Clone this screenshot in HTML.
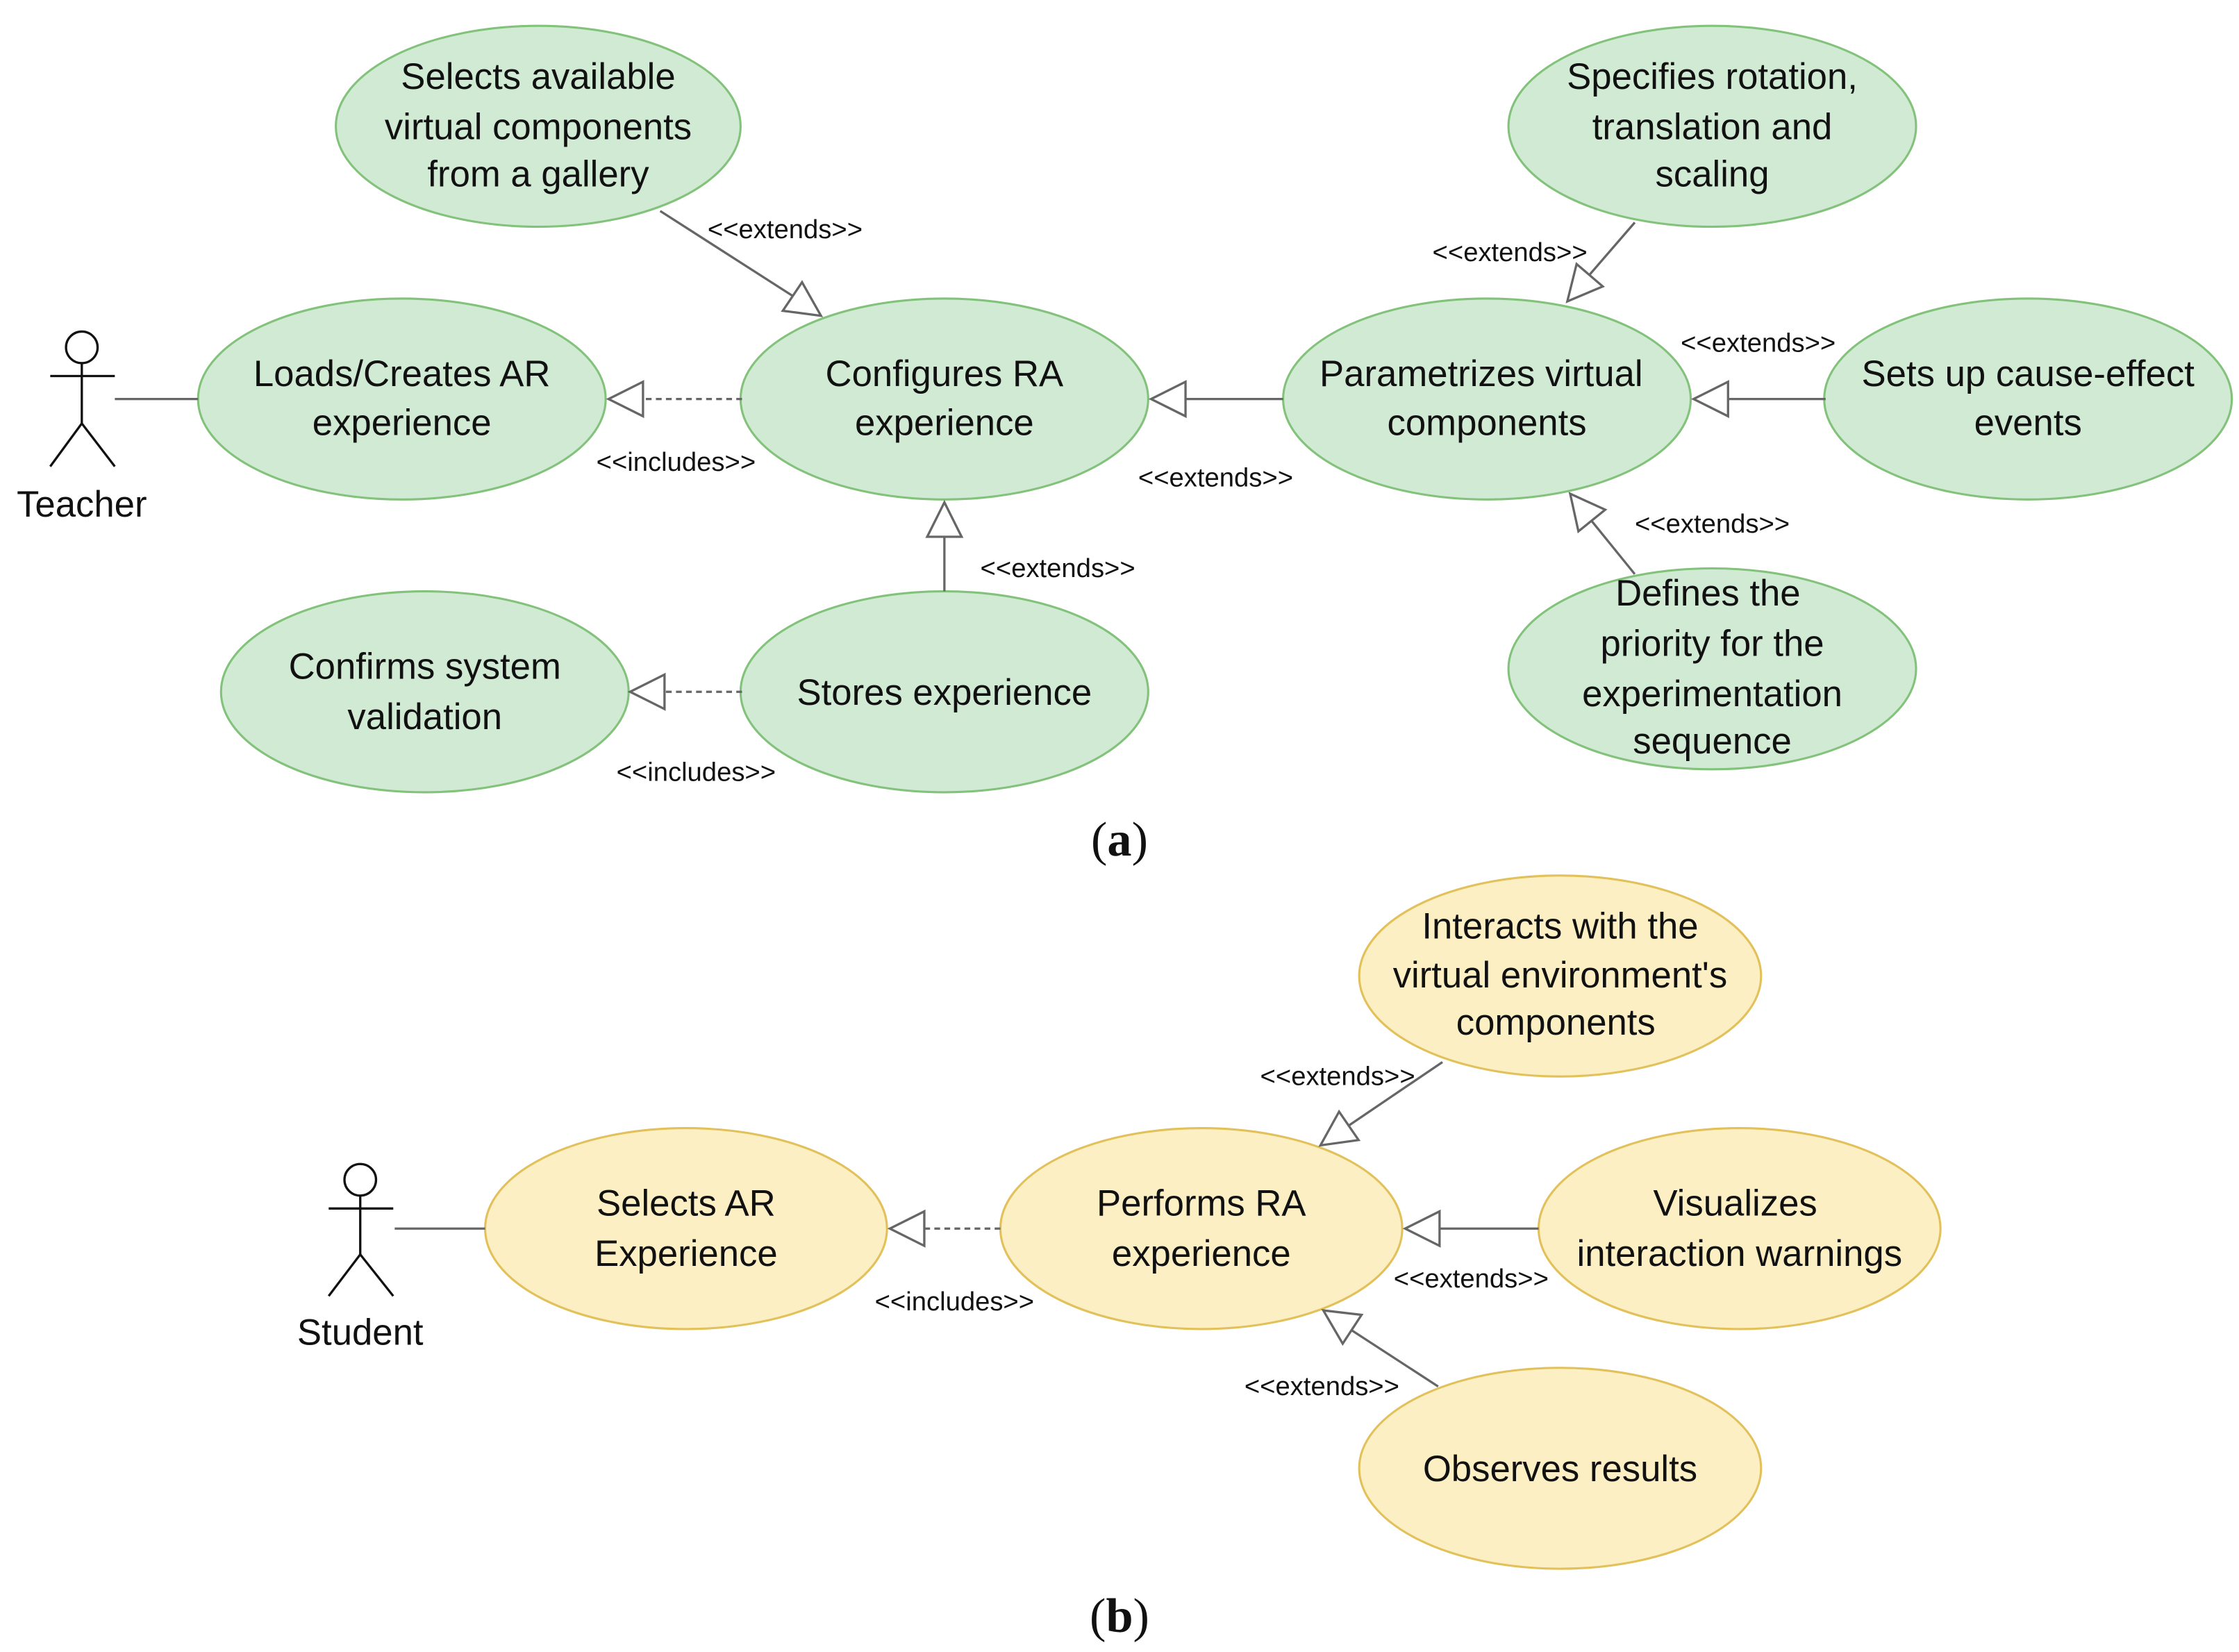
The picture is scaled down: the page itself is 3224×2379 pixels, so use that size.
<!DOCTYPE html>
<html><head><meta charset="utf-8"><style>
html,body{margin:0;padding:0;background:#fff;}
svg{display:block}
text{font-family:"Liberation Sans",Arial,sans-serif;fill:#111}
.e{font-size:25.5px;text-anchor:middle}
.l{font-size:18.5px;text-anchor:middle}
</style></head><body>
<svg id="s" width="3224" height="2379" viewBox="0 0 1560 1151" preserveAspectRatio="none" xmlns="http://www.w3.org/2000/svg">
<g fill="#d0ead4" stroke="#82c27a" stroke-width="1.5">
<ellipse cx="375" cy="88" rx="141" ry="70"/>
<ellipse cx="280" cy="278" rx="142" ry="70"/>
<ellipse cx="658" cy="278" rx="142" ry="70"/>
<ellipse cx="1036" cy="278" rx="142" ry="70"/>
<ellipse cx="1193" cy="88" rx="142" ry="70"/>
<ellipse cx="1413" cy="278" rx="142" ry="70"/>
<ellipse cx="1193" cy="466" rx="142" ry="70"/>
<ellipse cx="296" cy="482" rx="142" ry="70"/>
<ellipse cx="658" cy="482" rx="142" ry="70"/>
</g>
<g fill="#fcefc3" stroke="#e2c05a" stroke-width="1.5">
<ellipse cx="1087" cy="680" rx="140" ry="70"/>
<ellipse cx="478" cy="856" rx="140" ry="70"/>
<ellipse cx="837" cy="856" rx="140" ry="70"/>
<ellipse cx="1212" cy="856" rx="140" ry="70"/>
<ellipse cx="1087" cy="1023" rx="140" ry="70"/>
</g>
<g stroke="#666" stroke-width="1.6" fill="none">
<line x1="80" y1="278" x2="138" y2="278"/>
<line x1="517" y1="278" x2="448" y2="278" stroke-dasharray="4,3"/>
<line x1="894" y1="278" x2="826" y2="278"/>
<line x1="1272" y1="278" x2="1204" y2="278"/>
<line x1="460" y1="147" x2="552" y2="206"/>
<line x1="1139" y1="155" x2="1107" y2="192"/>
<line x1="1139" y1="400" x2="1109" y2="363"/>
<line x1="658" y1="412" x2="658" y2="374"/>
<line x1="517" y1="482" x2="463" y2="482" stroke-dasharray="4,3"/>
<line x1="275" y1="856" x2="338" y2="856"/>
<line x1="697" y1="856" x2="644" y2="856" stroke-dasharray="4,3"/>
<line x1="1072" y1="856" x2="1003" y2="856"/>
<line x1="1005" y1="740" x2="940" y2="784"/>
<line x1="1002" y1="966" x2="942" y2="927"/>
</g>
<g id="arr" fill="#fff" stroke="#666" stroke-width="1.6"></g>
<g stroke="#111" stroke-width="1.6" fill="none">
<circle cx="57" cy="242" r="11"/>
<line x1="57" y1="253" x2="57" y2="295"/><line x1="35" y1="262" x2="80" y2="262"/>
<line x1="57" y1="295" x2="35" y2="325"/><line x1="57" y1="295" x2="80" y2="325"/>
<circle cx="251" cy="822" r="11"/>
<line x1="251" y1="833" x2="251" y2="874"/><line x1="229" y1="842" x2="274" y2="842"/>
<line x1="251" y1="874" x2="229" y2="903"/><line x1="251" y1="874" x2="274" y2="903"/>
</g>
<text class="e" x="57" y="360">Teacher</text>
<text class="e" x="251" y="937">Student</text>
<g class="e">
<text class="e" x="375" y="62">Selects available</text>
<text class="e" x="375" y="97">virtual  components</text>
<text class="e" x="375" y="130">from a gallery</text>
<text class="e" x="280" y="269">Loads/Creates AR</text>
<text class="e" x="280" y="303">experience</text>
<text class="e" x="658" y="269">Configures RA</text>
<text class="e" x="658" y="303">experience</text>
<text class="e" x="1032" y="269">Parametrizes virtual</text>
<text class="e" x="1036" y="303">components</text>
<text class="e" x="1193" y="62">Specifies rotation,</text>
<text class="e" x="1193" y="97">translation and</text>
<text class="e" x="1193" y="130">scaling</text>
<text class="e" x="1413" y="269">Sets up cause-effect</text>
<text class="e" x="1413" y="303">events</text>
<text class="e" x="1190" y="422">Defines the</text>
<text class="e" x="1193" y="457">priority for the</text>
<text class="e" x="1193" y="492">experimentation</text>
<text class="e" x="1193" y="525">sequence</text>
<text class="e" x="296" y="473">Confirms system</text>
<text class="e" x="296" y="508">validation</text>
<text class="e" x="658" y="491">Stores experience</text>
<text class="e" x="1087" y="654">Interacts with the</text>
<text class="e" x="1087" y="688">virtual environment's</text>
<text class="e" x="1084" y="721">components</text>
<text class="e" x="478" y="847">Selects AR</text>
<text class="e" x="478" y="882">Experience</text>
<text class="e" x="837" y="847">Performs RA</text>
<text class="e" x="837" y="882">experience</text>
<text class="e" x="1209" y="847">Visualizes</text>
<text class="e" x="1212" y="882">interaction warnings</text>
<text class="e" x="1087" y="1032">Observes results</text>
</g>
<text class="l" x="547" y="166">&lt;&lt;extends&gt;&gt;</text>
<text class="l" x="471" y="328">&lt;&lt;includes&gt;&gt;</text>
<text class="l" x="847" y="339">&lt;&lt;extends&gt;&gt;</text>
<text class="l" x="1052" y="182">&lt;&lt;extends&gt;&gt;</text>
<text class="l" x="1225" y="245">&lt;&lt;extends&gt;&gt;</text>
<text class="l" x="1193" y="371">&lt;&lt;extends&gt;&gt;</text>
<text class="l" x="737" y="402">&lt;&lt;extends&gt;&gt;</text>
<text class="l" x="485" y="544">&lt;&lt;includes&gt;&gt;</text>
<text class="l" x="932" y="756">&lt;&lt;extends&gt;&gt;</text>
<text class="l" x="665" y="913">&lt;&lt;includes&gt;&gt;</text>
<text class="l" x="1025" y="897">&lt;&lt;extends&gt;&gt;</text>
<text class="l" x="921" y="972">&lt;&lt;extends&gt;&gt;</text>
<text x="780" y="596" style="font-family:'Liberation Serif',serif;font-size:34px;text-anchor:middle">(<tspan font-weight="bold">a</tspan>)</text>
<text x="780" y="1137" style="font-family:'Liberation Serif',serif;font-size:34px;text-anchor:middle">(<tspan font-weight="bold">b</tspan>)</text>
</svg>
<script>
var A=[[424,278,-1,0],[802,278,-1,0],[1180,278,-1,0],[572,220,0.83,0.56],[1092,210,-0.65,0.76],[1094,344,-0.63,-0.78],[658,350,0,-1],[439,482,-1,0],[620,856,-1,0],[979,856,-1,0],[920,798,-0.83,0.57],[922,913,-0.84,-0.55]];
var g=document.getElementById('arr'),L=24,W=12;
A.forEach(function(a){var tx=a[0],ty=a[1],dx=a[2],dy=a[3],m=Math.hypot(dx,dy);dx/=m;dy/=m;
var bx=tx-L*dx,by=ty-L*dy,nx=-dy,ny=dx;
var p=document.createElementNS('http://www.w3.org/2000/svg','polygon');
p.setAttribute('points',tx+','+ty+' '+(bx+W*nx)+','+(by+W*ny)+' '+(bx-W*nx)+','+(by-W*ny));g.appendChild(p);});
</script>
</body></html>
